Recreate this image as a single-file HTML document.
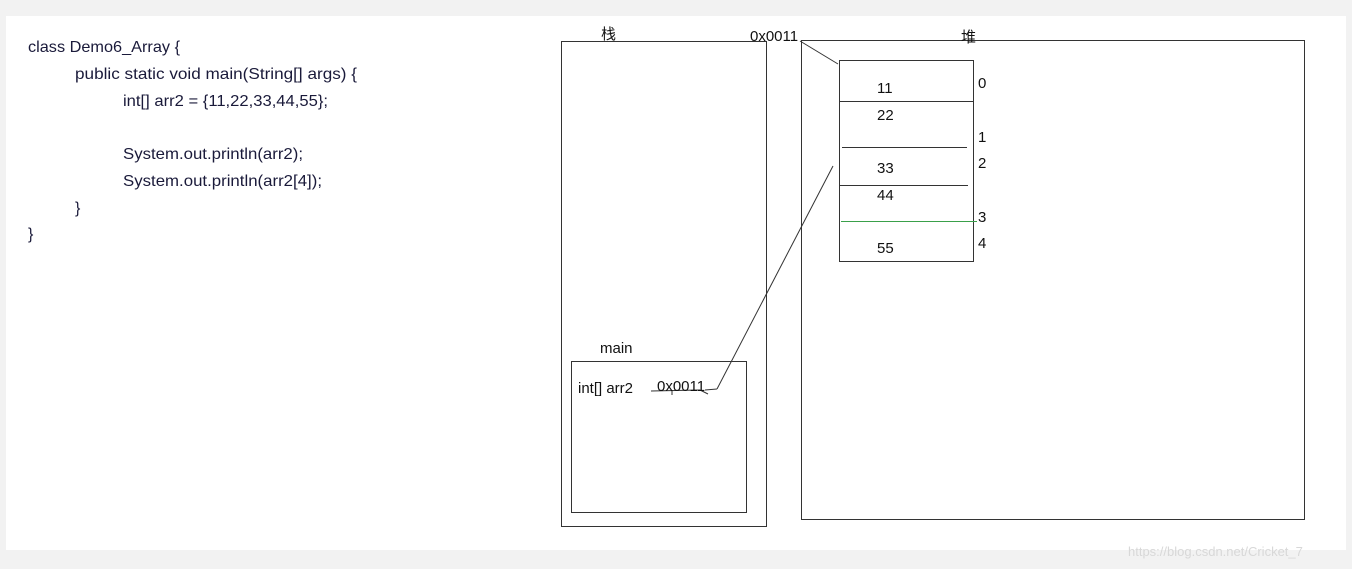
<!DOCTYPE html>
<html><head><meta charset="utf-8"><style>
html,body{margin:0;padding:0;background:#f2f2f2;width:1352px;height:569px;overflow:hidden}
svg{display:block}
text{font-family:"Liberation Sans","Noto Sans CJK SC",sans-serif;font-size:15px;fill:#111}
.c{fill:#1a1a3a;font-size:16px}
</style></head><body>
<svg width="1352" height="569" xmlns="http://www.w3.org/2000/svg">
<rect x="6" y="16" width="1340" height="534" fill="#fff"/>
<text class="c" x="28" y="52" textLength="152" lengthAdjust="spacingAndGlyphs">class Demo6_Array {</text>
<text class="c" x="75" y="79" textLength="282" lengthAdjust="spacingAndGlyphs">public static void main(String[] args) {</text>
<text class="c" x="123" y="106" textLength="205" lengthAdjust="spacingAndGlyphs">int[] arr2 = {11,22,33,44,55};</text>
<text class="c" x="123" y="159" textLength="180" lengthAdjust="spacingAndGlyphs">System.out.println(arr2);</text>
<text class="c" x="123" y="186" textLength="199" lengthAdjust="spacingAndGlyphs">System.out.println(arr2[4]);</text>
<text class="c" x="75" y="213">}</text>
<text class="c" x="28" y="239">}</text>
<g fill="none" stroke="#333" stroke-width="1">
<rect x="561.5" y="41.5" width="205" height="485"/>
<rect x="801.5" y="40.5" width="503" height="479"/>
<rect x="571.5" y="361.5" width="175" height="151"/>
<rect x="839.5" y="60.5" width="134" height="201"/>
<line x1="840" y1="101.5" x2="974" y2="101.5"/>
<line x1="842" y1="147.5" x2="967" y2="147.5"/>
<line x1="840" y1="185.5" x2="968" y2="185.5"/>
<line x1="800" y1="41" x2="838" y2="64"/>
<line x1="833" y1="166" x2="717" y2="389"/>
<line x1="717" y1="389" x2="705" y2="390"/>
<line x1="651" y1="391" x2="700" y2="390"/>
<line x1="672" y1="390" x2="672" y2="395"/>
<line x1="700" y1="390" x2="708" y2="394"/>
</g>
<line x1="841" y1="221.5" x2="977" y2="221.5" stroke="#3aa04a" stroke-width="1"/>
<text x="601" y="39">栈</text>
<text x="750" y="41">0x0011</text>
<text x="961" y="42">堆</text>
<text x="600" y="353">main</text>
<text x="578" y="393">int[] arr2</text>
<text x="657" y="391">0x0011</text>
<text x="877" y="93">11</text>
<text x="877" y="120">22</text>
<text x="877" y="173">33</text>
<text x="877" y="200">44</text>
<text x="877" y="253">55</text>
<text x="978" y="88">0</text>
<text x="978" y="142">1</text>
<text x="978" y="168">2</text>
<text x="978" y="222">3</text>
<text x="978" y="248">4</text>
<text x="1128" y="556" style="font-size:13px;fill:#d8d8d8">https://blog.csdn.net/Cricket_7</text>
</svg>
</body></html>
